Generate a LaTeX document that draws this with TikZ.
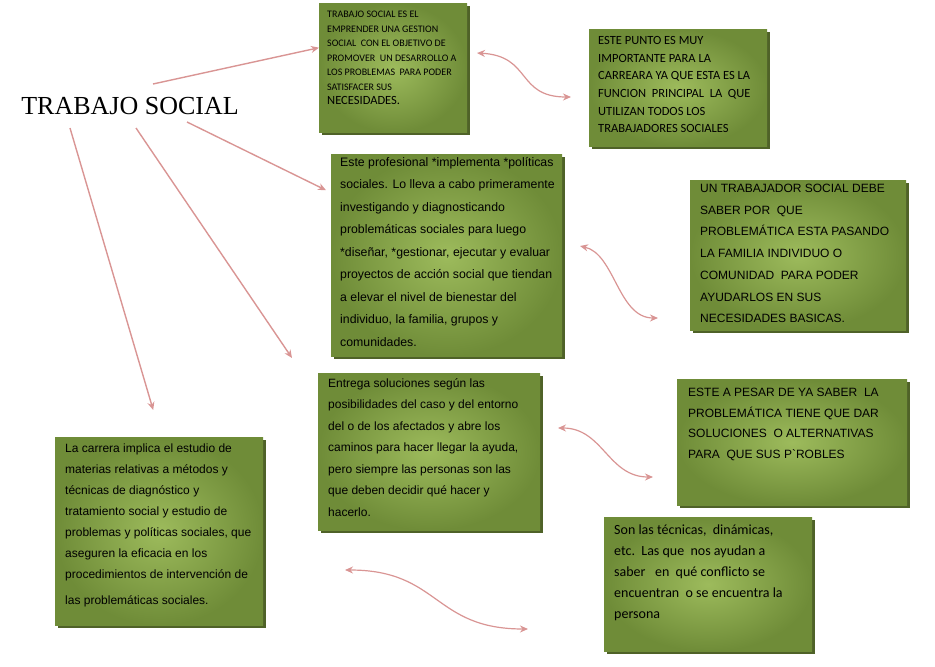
\documentclass[tikz,border=0pt]{standalone}
\usepackage{fontspec}
\setmainfont{Liberation Sans}
\newfontfamily\calibri{Carlito}
\newfontfamily\titulofont{Liberation Serif}
\usetikzlibrary{arrows.meta,shadows}
\definecolor{olivo}{HTML}{9DBB5C}
\definecolor{olivoborde}{HTML}{6F8C38}
\definecolor{olivosombra}{HTML}{4F6228}
\definecolor{rosa}{HTML}{D99594}

\tikzset{
    caja/.style={draw=none, inner sep=0pt, anchor=north west, shading=radial,
        inner color=olivo, outer color=olivoborde,
        drop shadow={shadow xshift=3pt, shadow yshift=-3pt, fill=olivosombra, opacity=1}},
    texto/.style={anchor=north west, inner sep=0pt, align=left},
    flecha/.style={draw=rosa, line width=1.4pt, -{Stealth[length=8pt,width=7pt]}},
    dflecha/.style={draw=rosa, line width=1.2pt, {Stealth[length=8pt,width=7pt]}-{Stealth[length=8pt,width=7pt]}},
}

\begin{document}
\begin{tikzpicture}[x=1pt,y=-1pt]
    \useasboundingbox (0,0) rectangle (935,667);

    % cajas
    \node[caja, minimum width=148, minimum height=129] (b1) at (319,3) {};
    \node[caja, minimum width=178, minimum height=117] (b2) at (589,29) {};
    \node[caja, minimum width=231, minimum height=202] (b3) at (331,154) {};
    \node[caja, minimum width=216, minimum height=150] (b4) at (690,180) {};
    \node[caja, minimum width=222, minimum height=157] (b5) at (318,373) {};
    \node[caja, minimum width=230, minimum height=126] (b6) at (677,379) {};
    \node[caja, minimum width=208, minimum height=188] (b7) at (55,437) {};
    \node[caja, minimum width=208, minimum height=134] (b8) at (604,517) {};

    % textos
    \node[texto, font={\calibri\fontsize{10}{14.5}\selectfont}] (t1) at (327,11)
        {TRABAJO SOCIAL ES EL\\ EMPRENDER UNA GESTION\\ SOCIAL\ \ CON EL OBJETIVO DE\\ PROMOVER\ \ UN DESARROLLO A\\
         LOS PROBLEMAS\ \ PARA PODER\\ SATISFACER SUS\\ {\fontsize{12.5}{14.5}\selectfont NECESIDADES.}};
    \node[texto, font={\calibri\fontsize{12.5}{17.7}\selectfont}] (t2) at (598,36)
        {ESTE PUNTO ES MUY\\ IMPORTANTE PARA LA\\ CARREARA YA QUE ESTA ES LA\\ FUNCION\ \ PRINCIPAL\ \ LA\ \ QUE\\
         UTILIZAN TODOS LOS\\ TRABAJADORES SOCIALES};
    \node[texto, font={\fontsize{12.3}{22.5}\selectfont}] (t3) at (340,157)
        {Este profesional *implementa *políticas\\ sociales. Lo lleva a cabo primeramente\\ investigando y diagnosticando\\
         problemáticas sociales para luego\\ *diseñar, *gestionar, ejecutar y evaluar\\ proyectos de acción social que tiendan\\
         a elevar el nivel de bienestar del\\ individuo, la familia, grupos y\\ comunidades.};
    \node[texto, font={\fontsize{12}{21.7}\selectfont}] (t4) at (700,184)
        {UN TRABAJADOR SOCIAL DEBE\\ SABER POR\ \ QUE\\ PROBLEMÁTICA ESTA PASANDO\\ LA FAMILIA INDIVIDUO O\\
         COMUNIDAD\ \ PARA PODER\\ AYUDARLOS EN SUS\\ NECESIDADES BASICAS.};
    \node[texto, font={\fontsize{12}{21.5}\selectfont}] (t5) at (328,378)
        {Entrega soluciones según las\\ posibilidades del caso y del entorno\\ del o de los afectados y abre los\\
         caminos para hacer llegar la ayuda,\\ pero siempre las personas son las\\ que deben decidir qué hacer y\\ hacerlo.};
    \node[texto, font={\fontsize{12}{20.7}\selectfont}] (t6) at (688,388)
        {ESTE A PESAR DE YA SABER\ \ LA\\ PROBLEMÁTICA TIENE QUE DAR\\ SOLUCIONES\ \ O ALTERNATIVAS\\
         PARA\ \ QUE SUS P\textasciigrave ROBLES};
    \node[texto, font={\fontsize{12}{21}\selectfont}] (t7) at (65,444)
        {La carrera implica el estudio de\\ materias relativas a métodos y\\ técnicas de diagnóstico y\\
         tratamiento social y estudio de\\ problemas y políticas sociales, que\\ aseguren la eficacia en los\\
         procedimientos de intervención de\\[5pt] las problemáticas sociales.};
    \node[texto, font={\calibri\fontsize{14}{21}\selectfont}] (t8) at (614,525)
        {Son las técnicas,\ \ dinámicas,\\ etc.\ \ Las que\ \ nos ayudan a\\ saber\ \ \ en\ \ qué conflicto se\\
         encuentran\ \ o se encuentra la\\ persona};

    % titulo
    \node (titulo) at (130,106) {\titulofont\fontsize{26}{26}\selectfont TRABAJO SOCIAL};

    % flechas desde el titulo
    \coordinate (s1) at (153,84);
    \coordinate (s2) at (187,122);
    \coordinate (s3) at (136,128);
    \coordinate (s4) at (70,128);
    \draw[flecha] (s1) -- ([yshift=20pt]b1.west);
    \draw[flecha] (s2) -- ([xshift=-5pt,yshift=65pt]b3.west);
    \draw[flecha] (s3) -- ([xshift=-26pt,yshift=15pt]b5.north west);
    \draw[flecha] (s4) -- ([xshift=-6pt,yshift=27pt]b7.north);

    % flechas curvas
    \coordinate (c1a) at (477,53);  \coordinate (c1b) at (571,97);
    \coordinate (c2a) at (580,246); \coordinate (c2b) at (658,318);
    \coordinate (c3a) at (558,428); \coordinate (c3b) at (653,477);
    \coordinate (c4a) at (345,570); \coordinate (c4b) at (528,629);
    \draw[dflecha] (c1a) .. controls +(55,3) and +(-55,0) .. (c1b);
    \draw[dflecha] (c2a) .. controls +(35,8) and +(-40,0) .. (c2b);
    \draw[dflecha] (c3a) .. controls +(45,0) and +(-45,0) .. (c3b);
    \draw[dflecha] (c4a) .. controls +(95,0) and +(-95,0) .. (c4b);

\end{tikzpicture}
\end{document}
